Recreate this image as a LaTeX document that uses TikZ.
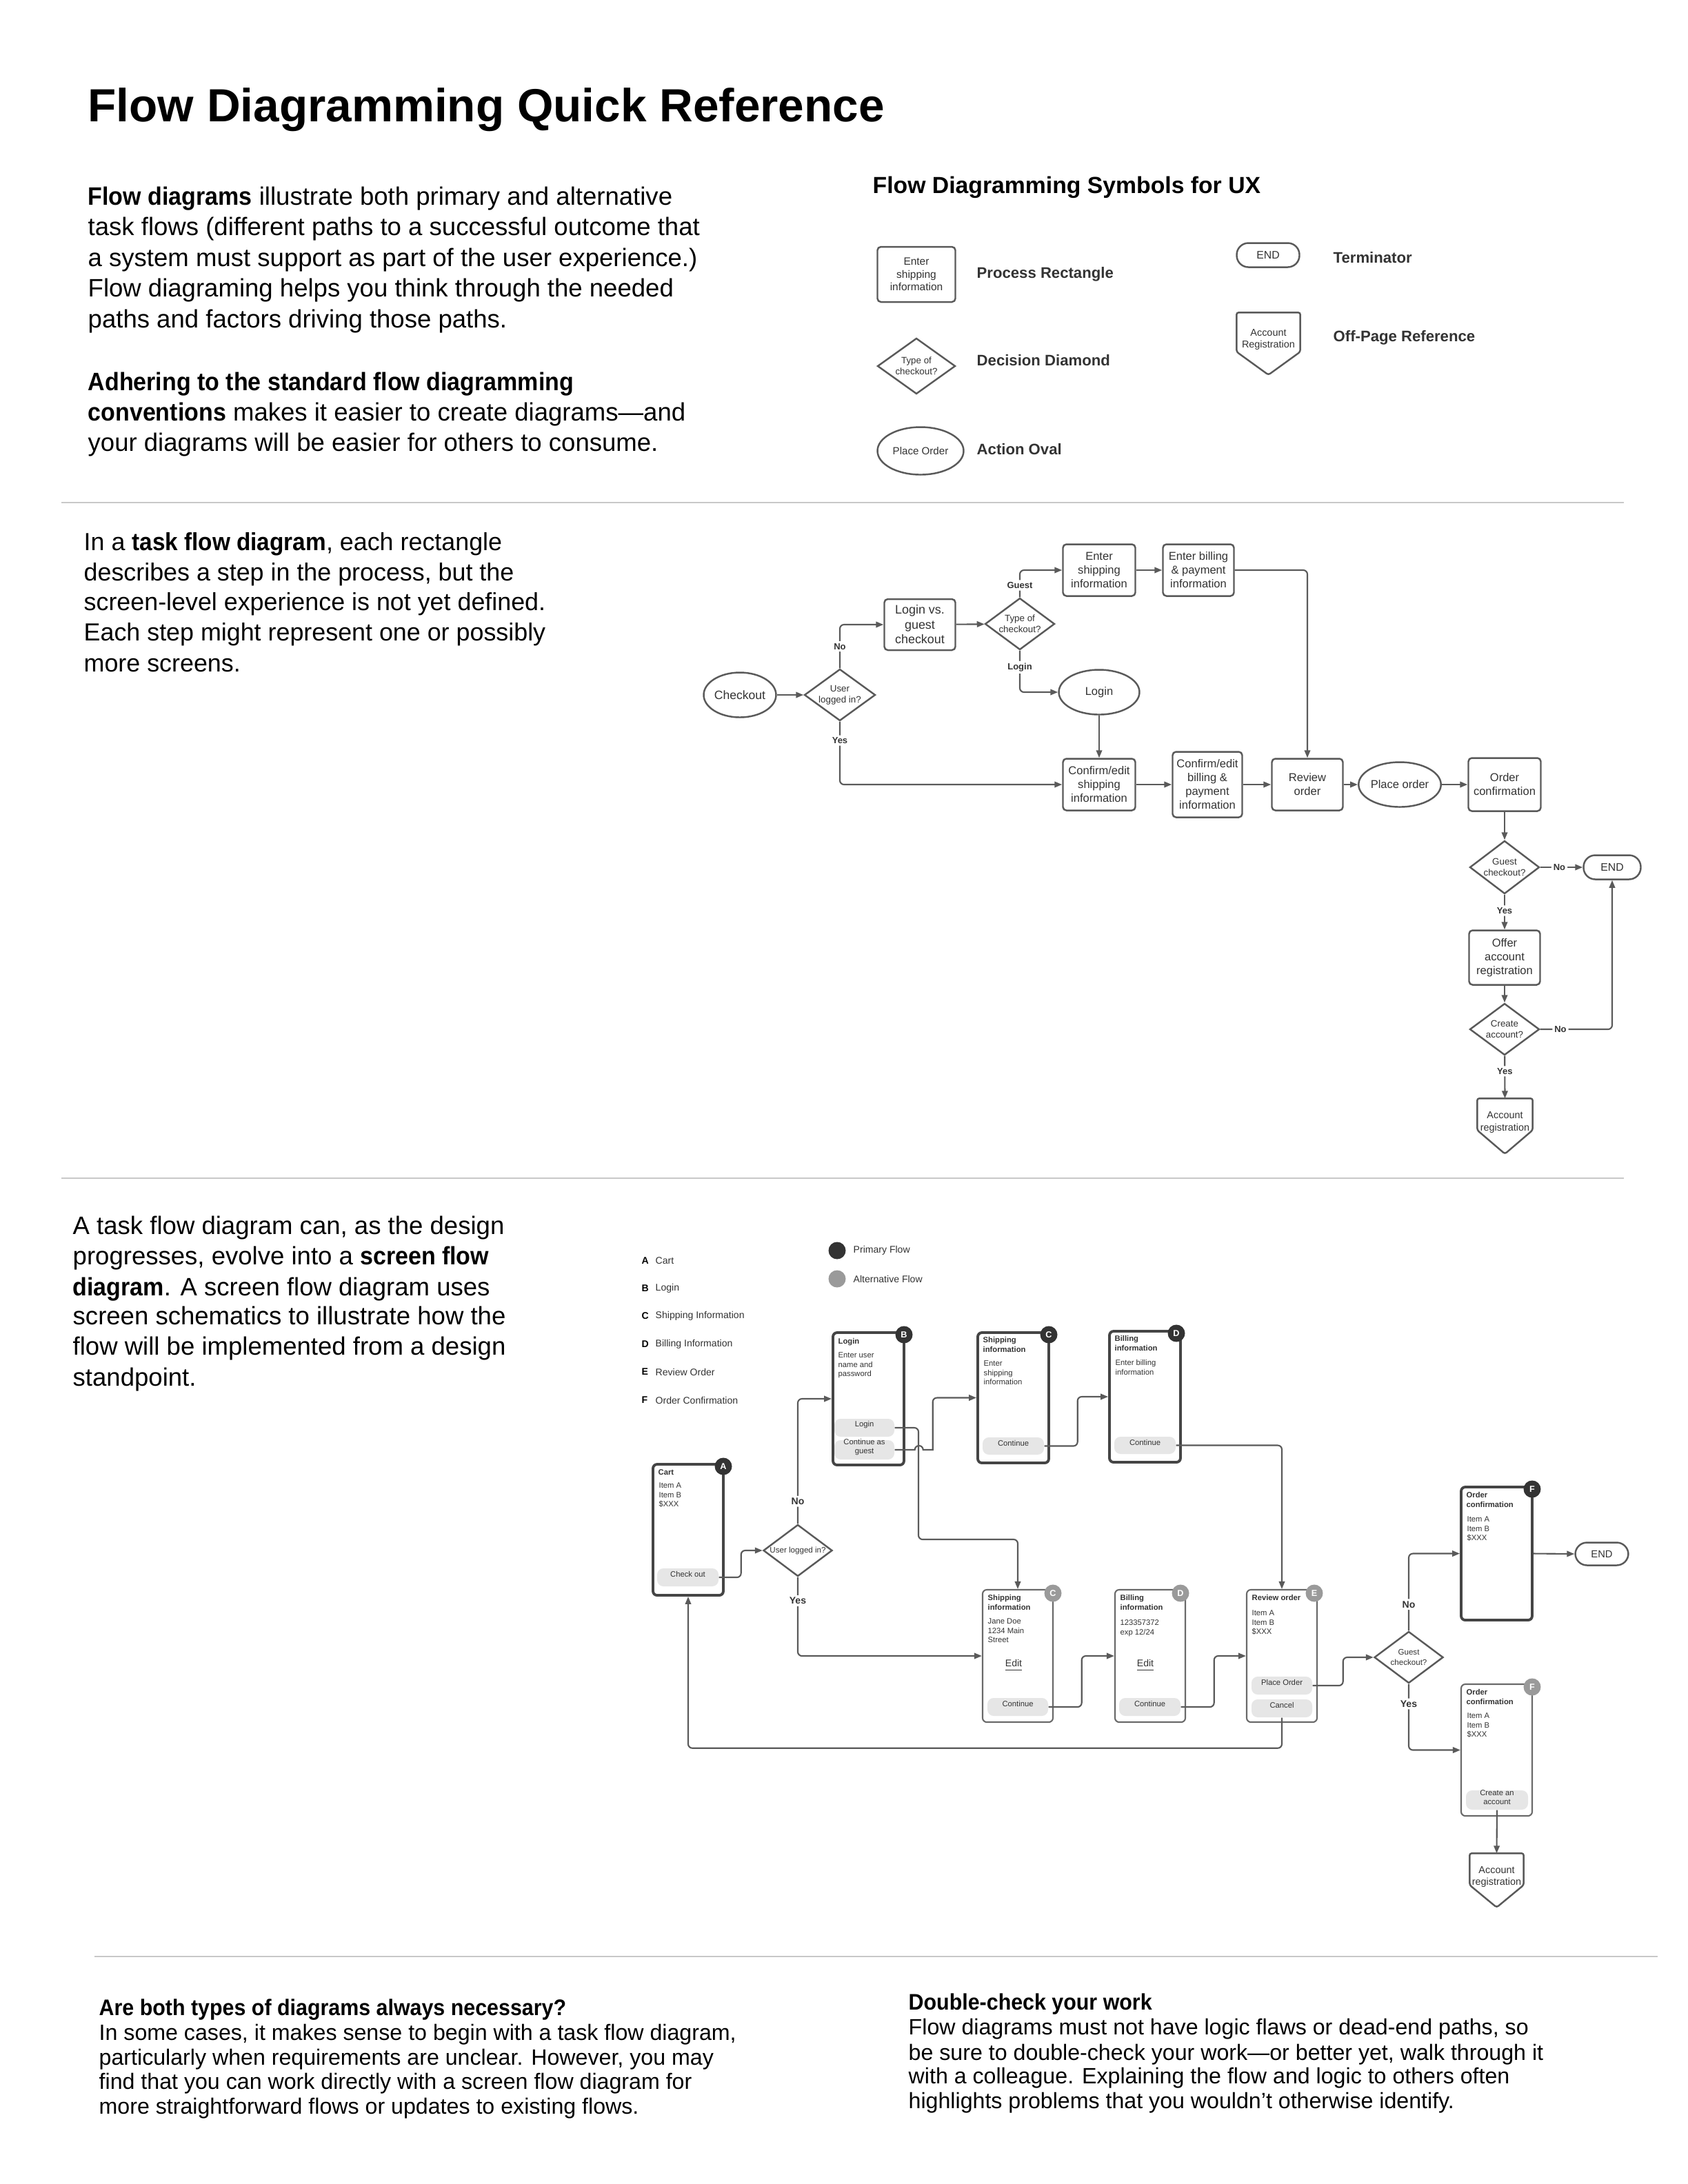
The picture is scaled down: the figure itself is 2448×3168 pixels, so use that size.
\documentclass[tikz,border=0pt]{standalone}
\usepackage{fontspec}
\setmainfont{Liberation Sans}
\usetikzlibrary{shapes.geometric,arrows.meta,fit,calc}
\definecolor{lc}{HTML}{5A5A5A}
\definecolor{tc}{HTML}{333333}
\definecolor{sepc}{HTML}{C8C8C8}
\definecolor{btn}{HTML}{E6E6E6}
\definecolor{bdark}{HTML}{333333}
\definecolor{blight}{HTML}{9A9A9A}
\definecolor{pbord}{HTML}{454545}
\definecolor{abord}{HTML}{6A6A6A}
\newcommand{\fsz}[2]{\fontsize{#1}{#2}\selectfont}
\newcommand{\nb}[1]{{\bfseries\addfontfeature{FakeStretch=0.93}#1}}
\newcommand{\txl}[4]{\node[anchor=base west, inner sep=0, #2] (#1) at (#3) {#4};}
\newcommand{\offpg}[7]{%
  \node[fit={(#2,#3) (#4,#5)}, inner sep=0] (#1) {};
  \draw[offl] (#1.north west) -- (#1.north east) -- ++(0,#6) -- (#1.south) -- ($(#1.north west)+(0,#6)$) -- cycle;
  \node[#7] (#1t) at ($(#1.north)+(0,{(#5-#3)*0.44})$)}
\begin{document}
\begin{tikzpicture}[x=0.1mm,y=-0.1mm,
  lnk/.style={draw=lc, line width=0.6pt, rounded corners=0.6mm},
  arw/.style={lnk, -{Triangle[length=1.1mm,width=0.85mm]}},
  tbox/.style={rectangle, draw=lc, line width=0.7pt, rounded corners=0.5mm, inner sep=0, align=center, text=tc, font=\fsz{4.7}{5.7}},
  tell/.style={ellipse, draw=lc, line width=0.7pt, inner sep=0, align=center, text=tc, font=\fsz{4.7}{5.7}},
  tdia/.style={diamond, draw=lc, line width=0.7pt, inner sep=0},
  dtext/.style={font=\fsz{3.8}{4.6}, text=tc, align=center},
  sdtext/.style={font=\fsz{3.3}{4.1}, text=tc, align=center},
  term/.style={rectangle, draw=lc, line width=0.7pt, rounded corners=1.7mm, inner sep=0, text=tc, font=\fsz{4.5}{5.4}},
  tlbl/.style={font=\bfseries\fsz{3.7}{4}, text=tc, fill=white, inner sep=0.3mm},
  slbl/.style={font=\bfseries\fsz{4}{4.4}, text=tc, fill=white, inner sep=0.3mm},
  offl/.style={draw=lc, line width=0.7pt, rounded corners=0.3mm},
  offt/.style={font=\fsz{4.1}{4.9}, text=tc, align=center, inner sep=0},
  body/.style={font=\fsz{10.4}{12.5}, text=black},
  bot/.style={font=\fsz{9.15}{10.5}, text=black},
  symlbl/.style={anchor=west, inner sep=0, font=\bfseries\fsz{6.3}{7.5}, text=tc},
  prim/.style={rectangle, draw=pbord, line width=1.1pt, rounded corners=0.6mm, inner sep=0},
  alts/.style={rectangle, draw=abord, line width=0.6pt, rounded corners=0.6mm, inner sep=0},
  sbtn/.style={rectangle, fill=btn, rounded corners=0.9mm, inner sep=0, align=center, text=tc, font=\fsz{3.2}{3.8}},
  stitle/.style={anchor=north west, inner sep=0, align=left, text=tc, font=\bfseries\fsz{3.2}{3.9}},
  sbody/.style={anchor=north west, inner sep=0, align=left, text=tc, font=\fsz{3.2}{3.9}},
  bdg/.style={circle, minimum size=2.5mm, inner sep=0, text=white, font=\bfseries\fsz{3.6}{4}},
  legl/.style={anchor=west, inner sep=0, font=\bfseries\fsz{4}{4.5}, text=black},
  legt/.style={anchor=west, inner sep=0, font=\fsz{4}{4.5}, text=tc}
]
\useasboundingbox (0,0) rectangle (2448,3168);
\fill[white] (0,0) rectangle (2448,3168);

% ---------------- Title and intro ----------------
\txl{title}{font=\bfseries\fsz{19.2}{23}, text=black}{127,176}{Flow Diagramming Quick Reference}
\txl{pa1}{body}{127,297}{\nb{Flow diagrams} illustrate both primary and alternative}
\txl{pa2}{body}{127,341}{task flows (different paths to a successful outcome that}
\txl{pa3}{body}{127,386}{a system must support as part of the user experience.)}
\txl{pa4}{body}{127,430}{Flow diagraming helps you think through the needed}
\txl{pa5}{body}{127,475}{paths and factors driving those paths.}
\txl{pb1}{body}{127,566}{\nb{Adhering to the standard flow diagramming}}
\txl{pb2}{body}{127,610}{\nb{conventions} makes it easier to create diagrams—and}
\txl{pb3}{body}{127,654}{your diagrams will be easier for others to consume.}

% ---------------- Symbols ----------------
\txl{symh}{font=\bfseries\fsz{9.6}{11}, text=black}{1265,280}{Flow Diagramming Symbols for UX}
\node[tbox, minimum width=11.3mm, minimum height=8mm, font=\fsz{4.4}{5.3}] (sym1) at (1329,398) {Enter\\shipping\\information};
\node[symlbl] (sym1l) at (1416,398) {Process Rectangle};
\node[tdia, minimum width=11.3mm, minimum height=8.1mm, label={[dtext]center:{Type of\\checkout?}}] (sym2) at (1329,531) {};
\node[symlbl] (sym2l) at (1416,523) {Decision Diamond};
\node[tell, minimum width=12.5mm, minimum height=6.9mm, font=\fsz{4.3}{5}] (sym3) at (1335,654) {Place Order};
\node[symlbl] (sym3l) at (1416,652) {Action Oval};
\node[term, minimum width=9.1mm, minimum height=3.5mm] (sym4) at (1839,370) {END};
\node[symlbl] (sym4l) at (1933,374) {Terminator};
\offpg{sym5}{1794}{454}{1885}{543}{57}{offt}{Account\\Registration};
\node[symlbl] (sym5l) at (1933,490) {Off-Page Reference};

\draw[sepc, line width=0.8pt] (89,729) -- (2355,729);

% ---------------- Task flow text ----------------
\txl{pc1}{body, font=\fsz{10.2}{12.5}}{121,798}{In a \nb{task flow diagram}, each rectangle}
\txl{pc2}{body, font=\fsz{10.2}{12.5}}{121,842}{describes a step in the process, but the}
\txl{pc3}{body, font=\fsz{10.2}{12.5}}{121,885}{screen-level experience is not yet defined.}
\txl{pc4}{body, font=\fsz{10.2}{12.5}}{121,929}{Each step might represent one or possibly}
\txl{pc5}{body, font=\fsz{10.2}{12.5}}{121,974}{more screens.}

% ---------------- Task flow diagram ----------------
\node[tell, minimum width=10.5mm, minimum height=6.5mm, font=\fsz{5}{6}] (chk) at (1073,1008) {Checkout};
\node[tdia, minimum width=10.3mm, minimum height=7.5mm, label={[dtext]center:{User\\logged in?}}] (d1) at (1218,1008) {};
\node[tbox, minimum width=10.3mm, minimum height=7.4mm, font=\fsz{5.1}{6.1}] (lvg) at (1334,906) {Login vs.\\guest\\checkout};
\node[tdia, minimum width=10.1mm, minimum height=7.5mm, label={[dtext]center:{Type of\\checkout?}}] (d2) at (1479,905) {};
\node[tbox, minimum width=10.5mm, minimum height=7.5mm] (es) at (1594,827) {Enter\\shipping\\information};
\node[tbox, minimum width=10.3mm, minimum height=7.5mm] (eb) at (1738,827) {Enter billing\\\& payment\\information};
\node[tell, minimum width=11.7mm, minimum height=6.5mm] (lg) at (1594,1004) {Login};
\node[tbox, minimum width=10.5mm, minimum height=7.5mm] (cs) at (1594,1138) {Confirm/edit\\shipping\\information};
\node[tbox, minimum width=10.1mm, minimum height=9.5mm] (cb) at (1751,1138) {Confirm/edit\\billing \&\\payment\\information};
\node[tbox, minimum width=10.3mm, minimum height=7.5mm] (ro) at (1896,1138) {Review\\order};
\node[tell, minimum width=11.1mm, minimum height=6.5mm] (po) at (2030,1138) {Place order};
\node[tbox, minimum width=10.5mm, minimum height=7.7mm] (oc) at (2182,1138) {Order\\confirmation};
\node[tdia, minimum width=10.1mm, minimum height=7.7mm, label={[dtext]center:{Guest\\checkout?}}] (d3) at (2182,1258) {};
\node[term, minimum width=8.3mm, minimum height=3.5mm] (end1) at (2338,1258) {END};
\node[tbox, minimum width=10.3mm, minimum height=7.9mm] (off) at (2182,1389) {Offer\\account\\registration};
\node[tdia, minimum width=10.1mm, minimum height=7.5mm, label={[dtext]center:{Create\\account?}}] (d4) at (2182,1493) {};
\offpg{ar1}{2143}{1594}{2222}{1673}{46}{offt}{Account\\registration};

\draw[arw] (chk) -- (d1);
\draw[arw] (d1.north) |- node[tlbl, pos=0.25] {No} (lvg.west);
\draw[arw] (lvg) -- (d2);
\draw[arw] (d2.north) |- node[tlbl, pos=0.22] {Guest} (es.west);
\draw[arw] (d2.south) |- node[tlbl, pos=0.2] {Login} (lg.west);
\draw[arw] (es) -- (eb);
\draw[arw] (eb.east) -| (ro.north);
\draw[arw] (lg) -- (cs);
\draw[arw] (d1.south) |- node[tlbl, pos=0.15] {Yes} (cs.west);
\draw[arw] (cs) -- (cb);
\draw[arw] (cb) -- (ro);
\draw[arw] (ro) -- (po);
\draw[arw] (po) -- (oc);
\draw[arw] (oc) -- (d3);
\draw[arw] (d3) -- node[tlbl, pos=0.45] {No} (end1);
\draw[arw] (d3) -- node[tlbl, pos=0.46] {Yes} (off);
\draw[arw] (off) -- (d4);
\draw[arw] (d4.east) -| node[tlbl, pos=0.14] {No} (end1.south);
\draw[arw] (d4) -- node[tlbl, pos=0.36] {Yes} (ar1.north);

\draw[sepc, line width=0.8pt] (89,1709) -- (2355,1709);

% ---------------- Screen flow text ----------------
\txl{pd1}{body}{105,1790}{A task flow diagram can, as the design}
\txl{pd2}{body}{105,1834}{progresses, evolve into a \nb{screen flow}}
\txl{pd3}{body}{105,1879}{\nb{diagram}. A screen flow diagram uses}
\txl{pd4}{body}{105,1921}{screen schematics to illustrate how the}
\txl{pd5}{body}{105,1965}{flow will be implemented from a design}
\txl{pd6}{body}{105,2010}{standpoint.}

% legend
\node[legl] (lA) at (930,1829) {A}; \node[legt] (lAt) at (950,1829) {Cart};
\node[legl] (lB) at (930,1869) {B}; \node[legt] (lBt) at (950,1869) {Login};
\node[legl] (lC) at (930,1909) {C}; \node[legt] (lCt) at (950,1909) {Shipping Information};
\node[legl] (lD) at (930,1950) {D}; \node[legt] (lDt) at (950,1950) {Billing Information};
\node[legl] (lE) at (930,1990) {E}; \node[legt] (lEt) at (950,1990) {Review Order};
\node[legl] (lF) at (930,2031) {F}; \node[legt] (lFt) at (950,2031) {Order Confirmation};
\node[circle, fill=bdark, minimum size=2.5mm, inner sep=0] (lp) at (1214,1814) {};
\node[legt] (lpt) at (1237,1814) {Primary Flow};
\node[circle, fill=blight, minimum size=2.5mm, inner sep=0] (la) at (1214,1855) {};
\node[legt] (lat) at (1237,1855) {Alternative Flow};

% screens
\node[prim, fit={(947,2124) (1049,2314)}] (sA) {};
\node[prim, fit={(1208,1933) (1311,2125)}] (sB) {};
\node[prim, fit={(1418,1933) (1521,2122)}] (sC) {};
\node[prim, fit={(1609,1931) (1712,2121)}] (sD) {};
\node[alts, fit={(1425,2306) (1527,2498)}] (sC2) {};
\node[alts, fit={(1617,2306) (1719,2498)}] (sD2) {};
\node[alts, fit={(1808,2306) (1910,2498)}] (sE) {};
\node[prim, fit={(2119,2157) (2222,2350)}] (sF) {};
\node[alts, fit={(2119,2443) (2222,2634)}] (sF2) {};

\node[bdg, fill=bdark] (gA) at (1049,2127) {A};
\node[bdg, fill=bdark] (gB) at (1311,1936) {B};
\node[bdg, fill=bdark] (gC) at (1521,1936) {C};
\node[bdg, fill=bdark] (gD) at (1706,1934) {D};
\node[bdg, fill=blight] (gC2) at (1527,2311) {C};
\node[bdg, fill=blight] (gD2) at (1712,2311) {D};
\node[bdg, fill=blight] (gE) at (1906,2311) {E};
\node[bdg, fill=bdark] (gF) at (2222,2160) {F};
\node[bdg, fill=blight] (gF2) at (2222,2447) {F};

\node[stitle] (tA) at (954,2131) {Cart};
\node[sbody] (xA) at (955,2150) {Item A\\Item B\\\$XXX};
\node[stitle] (tB) at (1215,1941) {Login};
\node[sbody] (xB) at (1215,1961) {Enter user\\name and\\password};
\node[stitle] (tC) at (1425,1939) {Shipping\\information};
\node[sbody] (xC) at (1426,1973) {Enter\\shipping\\information};
\node[stitle] (tD) at (1616,1937) {Billing\\information};
\node[sbody] (xD) at (1617,1972) {Enter billing\\information};
\node[stitle] (tC2) at (1432,2313) {Shipping\\information};
\node[sbody] (xC2) at (1432,2347) {Jane Doe\\1234 Main\\Street};
\node[font=\fsz{4}{4.5}, text=tc, inner sep=0] (eC2) at (1470,2416) {\underline{Edit}};
\node[stitle] (tD2) at (1624,2313) {Billing\\information};
\node[sbody] (xD2) at (1624,2349) {123357372\\exp 12/24};
\node[font=\fsz{4}{4.5}, text=tc, inner sep=0] (eD2) at (1661,2416) {\underline{Edit}};
\node[stitle] (tE) at (1815,2313) {Review order};
\node[sbody] (xE) at (1815,2335) {Item A\\Item B\\\$XXX};
\node[stitle] (tF) at (2126,2164) {Order\\confirmation};
\node[sbody] (xF) at (2127,2199) {Item A\\Item B\\\$XXX};
\node[stitle] (tF2) at (2126,2450) {Order\\confirmation};
\node[sbody] (xF2) at (2127,2484) {Item A\\Item B\\\$XXX};

\node[sbtn, fit={(953,2275) (1042,2301)}] (bA) {Check out};
\node[sbtn, fit={(1210,2058) (1297,2084)}] (bB1) {Login};
\node[sbtn, fit={(1210,2089) (1297,2117)}] (bB2) {Continue as\\guest};
\node[sbtn, fit={(1425,2085) (1514,2110)}] (bC) {Continue};
\node[sbtn, fit={(1616,2084) (1705,2109)}] (bD) {Continue};
\node[sbtn, fit={(1432,2463) (1520,2489)}] (bC2) {Continue};
\node[sbtn, fit={(1623,2463) (1712,2489)}] (bD2) {Continue};
\node[sbtn, fit={(1815,2432) (1903,2458)}] (bE1) {Place Order};
\node[sbtn, fit={(1815,2465) (1903,2491)}] (bE2) {Cancel};
\node[sbtn, fit={(2126,2597) (2216,2625)}] (bF2) {Create an\\account};

\node[tdia, minimum width=10mm, minimum height=7.5mm, label={[sdtext]center:{User logged in?}}] (dS) at (1157,2249) {};
\node[tdia, minimum width=10mm, minimum height=7.5mm, label={[sdtext]center:{Guest\\checkout?}}] (dG) at (2043,2404) {};
\node[term, minimum width=7.7mm, minimum height=3.3mm, font=\fsz{4.2}{5}] (end2) at (2323,2254) {END};
\offpg{ar2}{2132}{2689}{2209}{2766}{46}{offt}{Account\\registration};

\draw[arw] (bA.east) -- ++(32,0) |- (dS.west);
\draw[arw] (dS.north) |- node[slbl, pos=0.09] {No} (sB.west);
\draw[arw] (dS.south) |- node[slbl, pos=0.15] {Yes} (sC2.west);
\draw[arw] (bB1.east) -| (1332,2233) -| (sC2.north);
\draw[arw, sharp corners] (bB2.east) -- ++(29,0) arc[start angle=180, end angle=0, radius=0.6mm] -- ++(14,0) [rounded corners=0.6mm] |- (sC.west);
\draw[arw] (bC.east) -- ++(48,0) |- (sD.west);
\draw[arw] (bD.east) -| (sE.north);
\draw[arw] (bC2.east) -- ++(48,0) |- (sD2.west);
\draw[arw] (bD2.east) -- ++(48,0) |- (sE.west);
\draw[arw] (bE1.east) -- ++(44,0) |- (dG.west);
\draw[arw] (bE2.south) -- ++(0,44) -| (sA.south);
\draw[arw] (dG.north) |- node[slbl, pos=0.17] {No} (sF.west);
\draw[arw] (dG.south) |- node[slbl, pos=0.15] {Yes} (sF2.west);
\draw[arw] (sF.east) -- (end2.west);
\draw[arw] (bF2.south) -- (ar2.north);

\draw[sepc, line width=0.8pt] (137,2838) -- (2404,2838);

% ---------------- Bottom text ----------------
\txl{qa0}{font=\fsz{9.3}{10.5}, text=black}{143,2923}{\nb{Are both types of diagrams always necessary?}}
\txl{qa1}{bot}{143,2959}{In some cases, it makes sense to begin with a task flow diagram,}
\txl{qa2}{bot}{143,2995}{particularly when requirements are unclear. However, you may}
\txl{qa3}{bot}{143,3030}{find that you can work directly with a screen flow diagram for}
\txl{qa4}{bot}{143,3066}{more straightforward flows or updates to existing flows.}
\txl{qb0}{font=\fsz{9.3}{10.5}, text=black}{1317,2915}{\nb{Double-check your work}}
\txl{qb1}{bot}{1317,2951}{Flow diagrams must not have logic flaws or dead-end paths, so}
\txl{qb2}{bot}{1317,2988}{be sure to double-check your work—or better yet, walk through it}
\txl{qb3}{bot}{1317,3022}{with a colleague. Explaining the flow and logic to others often}
\txl{qb4}{bot}{1317,3058}{highlights problems that you wouldn't otherwise identify.}
\end{tikzpicture}
\end{document}
